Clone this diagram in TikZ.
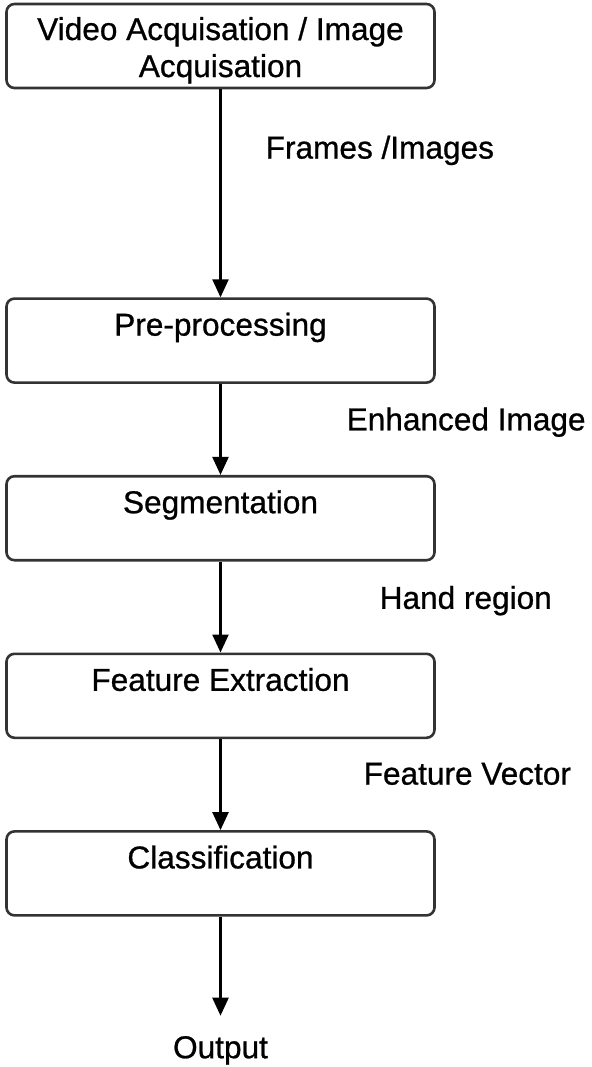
\documentclass[tikz,border=0pt]{standalone}
\usepackage{fontspec}
\setmainfont{Liberation Sans}[FakeBold=0.8]
\usetikzlibrary{positioning,arrows.meta}

\begin{document}
\begin{tikzpicture}[x=0.5pt,y=-0.5pt,
  stage/.style={draw=black!80, line width=1.3pt, rounded corners=4pt,
    minimum width=214pt, inner sep=0pt, text height=18.5pt, text depth=23.5pt},
  flow/.style={line width=1.2pt, -{Triangle[length=9pt,width=8pt]}},
  lbl/.style={anchor=base west, inner sep=0pt}]
\useasboundingbox (0,0) rectangle (591,1067);
\tikzstyle{every node}+=[font=\fontsize{15.8}{18.5}\selectfont]
\node[stage, align=center, text height=36.5pt, text depth=5.5pt] (acq) at (220.5,46)
  {Video Acquisation / Image\\Acquisation};
\node[stage, below=104pt of acq] (pre) {Pre-processing};
\node[stage, below=45.5pt of pre] (seg) {Segmentation};
\node[stage, below=45.5pt of seg] (feat) {Feature Extraction};
\node[stage, below=45.5pt of feat] (cls) {Classification};
\node[inner sep=0pt, below=59.5pt of cls] (out) {Output};
% arrows and their labels
\draw[flow] (acq) -- (pre) node[lbl, pos=0.333, xshift=22pt] {Frames /Images};
\draw[flow] (pre) -- (seg) node[lbl, pos=0.51, xshift=62.5pt] {Enhanced Image};
\draw[flow] (seg) -- (feat) node[lbl, pos=0.52, xshift=79pt] {Hand region};
\draw[flow] (feat) -- (cls) node[lbl, pos=0.5, xshift=71pt] {Feature Vector};
\draw[flow, shorten >=10pt] (cls) -- (out);
\end{tikzpicture}
\end{document}
